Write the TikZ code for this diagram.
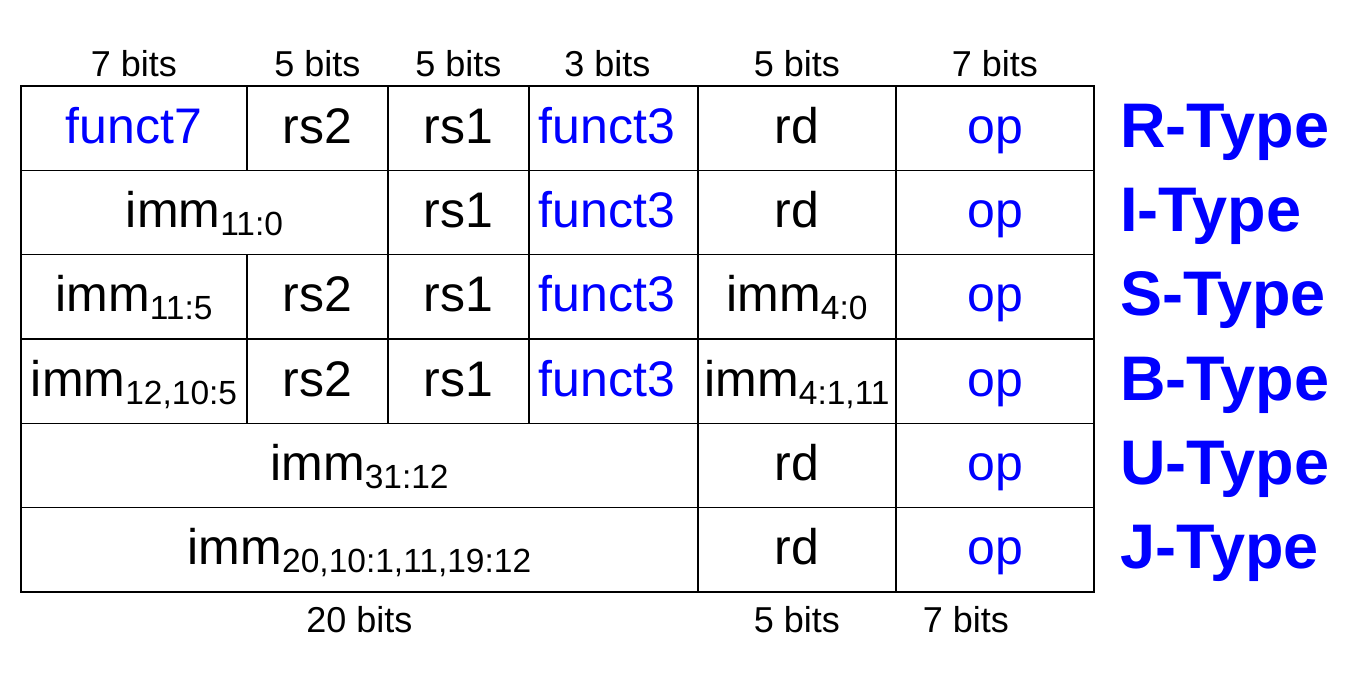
\documentclass[tikz,border=0pt]{standalone}
\usepackage{fontspec}
\setmainfont{Liberation Sans}
\usetikzlibrary{positioning}
\definecolor{opblue}{RGB}{0,0,255}
\newcommand{\immsub}[1]{imm\raisebox{-8pt}{\fontsize{33.5}{40}\selectfont #1}}

\begin{document}
\begin{tikzpicture}[x=1pt,y=-1pt,
  field/.style={draw,line width=1.4pt,anchor=north west,inner sep=0pt,outer sep=0pt,minimum height=84.33pt,text height=40pt,text depth=10pt,font=\fontsize{50}{60}\selectfont},
  ctrl/.style={field,text=opblue},
  fthree/.style={ctrl,execute at end node={\hspace*{13pt}}},
  bits/.style={anchor=base,inner sep=0pt,font=\fontsize{36}{40}\selectfont},
  kind/.style={anchor=base west,inner sep=0pt,text=opblue,font=\fontsize{63}{70}\selectfont\bfseries}]
        \useasboundingbox (0,0) rectangle (1363,688);
        % R-Type
        \node[ctrl,minimum width=226pt] (rf7) at (21,86) {funct7};
        \node[field,minimum width=141pt] (rrs2) at (rf7.north east) {rs2};
        \node[field,minimum width=141pt] (rrs1) at (rrs2.north east) {rs1};
        \node[fthree,minimum width=169pt] (rf3) at (rrs1.north east) {funct3};
        \node[field,minimum width=198pt] (rrd) at (rf3.north east) {rd};
        \node[ctrl,minimum width=198pt] (rop) at (rrd.north east) {op};
        % I-Type
        \node[field,minimum width=367pt] (iimm) at (21,170.33) {\immsub{11:0}};
        \node[field,minimum width=141pt] (irs1) at (iimm.north east) {rs1};
        \node[fthree,minimum width=169pt] (if3) at (irs1.north east) {funct3};
        \node[field,minimum width=198pt] (ird) at (if3.north east) {rd};
        \node[ctrl,minimum width=198pt] (iop) at (ird.north east) {op};
        % S-Type
        \node[field,minimum width=226pt] (simmh) at (21,254.67) {\immsub{11:5}};
        \node[field,minimum width=141pt] (srs2) at (simmh.north east) {rs2};
        \node[field,minimum width=141pt] (srs1) at (srs2.north east) {rs1};
        \node[fthree,minimum width=169pt] (sf3) at (srs1.north east) {funct3};
        \node[field,minimum width=198pt] (simml) at (sf3.north east) {\immsub{4:0}};
        \node[ctrl,minimum width=198pt] (sop) at (simml.north east) {op};
        % B-Type
        \node[field,minimum width=226pt] (bimmh) at (21,339) {\immsub{12,10:5}};
        \node[field,minimum width=141pt] (brs2) at (bimmh.north east) {rs2};
        \node[field,minimum width=141pt] (brs1) at (brs2.north east) {rs1};
        \node[fthree,minimum width=169pt] (bf3) at (brs1.north east) {funct3};
        \node[field,minimum width=198pt] (bimml) at (bf3.north east) {\immsub{4:1,11}};
        \node[ctrl,minimum width=198pt] (bop) at (bimml.north east) {op};
        % U-Type
        \node[field,minimum width=677pt] (uimm) at (21,423.33) {\immsub{31:12}};
        \node[field,minimum width=198pt] (urd) at (uimm.north east) {rd};
        \node[ctrl,minimum width=198pt] (uop) at (urd.north east) {op};
        % J-Type
        \node[field,minimum width=677pt] (jimm) at (21,507.67) {\immsub{20,10:1,11,19:12}};
        \node[field,minimum width=198pt] (jrd) at (jimm.north east) {rd};
        \node[ctrl,minimum width=198pt] (jop) at (jrd.north east) {op};
        % widths
        \node[bits] (tf7) at ([yshift=10pt]rf7.north) {7 bits};
        \node[bits] (trs2) at ([yshift=10pt]rrs2.north) {5 bits};
        \node[bits] (trs1) at ([yshift=10pt]rrs1.north) {5 bits};
        \node[bits] (tf3) at ([xshift=-6pt,yshift=10pt]rf3.north) {3 bits};
        \node[bits] (trd) at ([yshift=10pt]rrd.north) {5 bits};
        \node[bits] (top) at ([yshift=10pt]rop.north) {7 bits};
        \node[bits] (bimm) at ([yshift=-40pt]jimm.south) {20 bits};
        \node[bits] (brd) at ([yshift=-40pt]jrd.south) {5 bits};
        \node[bits] (bop7) at ([xshift=-29pt,yshift=-40pt]jop.south) {7 bits};
        % formats
        \node[kind] (rtype) at ([xshift=26pt,yshift=-19pt]rop.east) {R-Type};
        \node[kind] (itype) at ([xshift=26pt,yshift=-19pt]iop.east) {I-Type};
        \node[kind] (stype) at ([xshift=26pt,yshift=-19pt]sop.east) {S-Type};
        \node[kind] (btype) at ([xshift=26pt,yshift=-19pt]bop.east) {B-Type};
        \node[kind] (utype) at ([xshift=26pt,yshift=-19pt]uop.east) {U-Type};
        \node[kind] (jtype) at ([xshift=26pt,yshift=-19pt]jop.east) {J-Type};
\end{tikzpicture}
\end{document}
